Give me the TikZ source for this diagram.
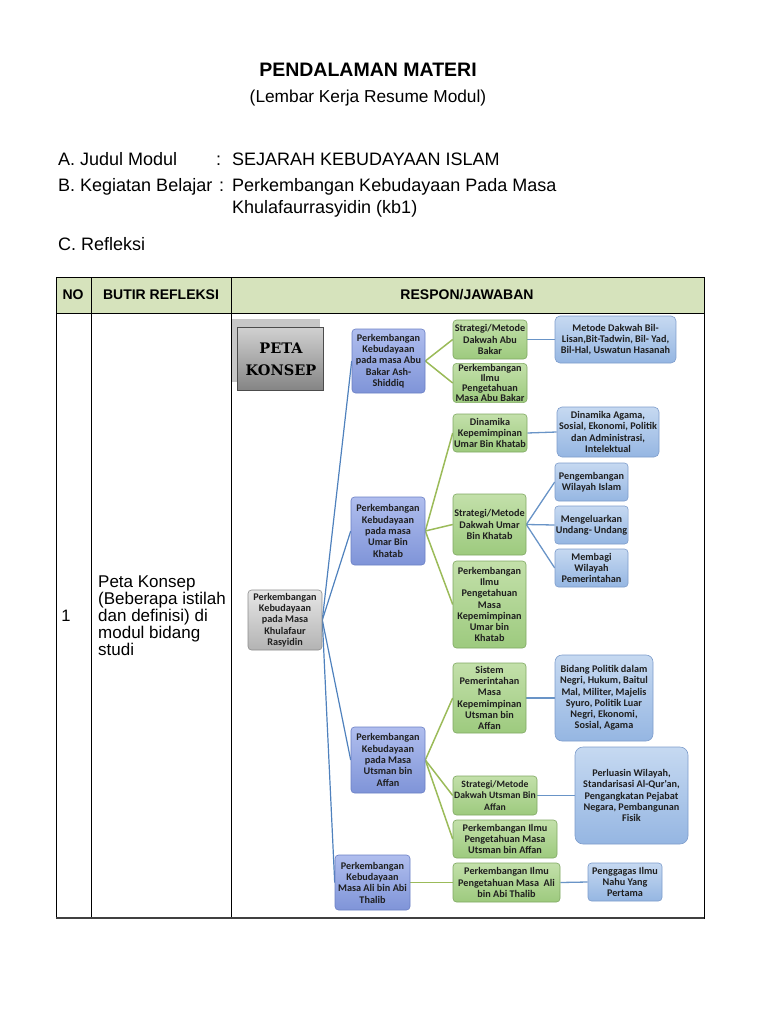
\documentclass[tikz,border=0pt]{standalone}
\usepackage{fontspec}
\setmainfont{Liberation Sans}
\newfontfamily\nodefont{Carlito}
\newfontfamily\petafont{DejaVu Serif}
\usetikzlibrary{backgrounds}
\definecolor{hdr}{HTML}{D6E3BC}
\definecolor{lonet}{HTML}{B0BEEE}
\definecolor{loneb}{HTML}{7F94D8}
\definecolor{loned}{HTML}{6A7FC4}
\definecolor{ltwot}{HTML}{C3E0AA}
\definecolor{ltwob}{HTML}{9DCA7E}
\definecolor{ltwod}{HTML}{7FA862}
\definecolor{lthreet}{HTML}{C6D9F1}
\definecolor{lthreeb}{HTML}{95B6E2}
\definecolor{lthreed}{HTML}{7D9CCB}
\definecolor{rtop}{HTML}{E6E6E6}
\definecolor{rbot}{HTML}{B3B3B3}
\definecolor{rdraw}{HTML}{8C8C8C}
\definecolor{ebl}{HTML}{4F81BD}
\definecolor{egr}{HTML}{9BBB59}
\definecolor{txt}{HTML}{1F1F1F}
\begin{document}
\begin{tikzpicture}[x=1pt,y=-1pt,
  wh/.style 2 args={minimum width=#1pt, minimum height=#2pt},
  basebox/.style={rounded corners=3.5pt, draw, line width=0.6pt, align=center, inner sep=1pt,
     font=\nodefont\bfseries\fontsize{10.2}{11.3}\selectfont, text=txt},
  lone/.style={basebox, draw=loned, top color=lonet, bottom color=loneb},
  ltwo/.style={basebox, draw=ltwod, top color=ltwot, bottom color=ltwob},
  lthree/.style={basebox, draw=lthreed, top color=lthreet, bottom color=lthreeb},
  rootbox/.style={basebox, draw=rdraw, top color=rtop, bottom color=rbot},
  blueedge/.style={draw=ebl, line width=1.2pt},
  greenedge/.style={draw=egr, line width=1.5pt},
  l3edge/.style={draw=ebl!85, line width=1.3pt},
  tline/.style={draw=black, line width=0.8pt},
  bodytext/.style={font=\fontsize{18}{20}\selectfont, anchor=base west, inner sep=0pt},
]
\useasboundingbox (0,0) rectangle (768,1024);

% heading
\node[anchor=base, inner sep=0pt, font=\bfseries\fontsize{19.5}{22}\selectfont] (title) at (368,77) {PENDALAMAN MATERI};
\node[anchor=base, inner sep=0pt, font=\fontsize{17.3}{20}\selectfont] (subtitle) at (368,103) {(Lembar Kerja Resume Modul)};
\node[bodytext] (la) at (58,166) {A. Judul Modul};
\node[bodytext] (lacolon) at (216,166) {:};
\node[bodytext] (va) at (232,166) {SEJARAH KEBUDAYAAN ISLAM};
\node[bodytext] (lb) at (58,192) {B. Kegiatan Belajar};
\node[bodytext] (lbcolon) at (219,192) {:};
\node[bodytext] (vb) at (232,192) {Perkembangan Kebudayaan Pada Masa};
\node[bodytext] (vb2) at (232,214) {Khulafaurrasyidin (kb1)};
\node[bodytext] (lc) at (58,251) {C. Refleksi};

% table
\fill[hdr] (56,277) rectangle (704,313);
\draw[tline] (56,277) rectangle (704,918);
\draw[tline] (56,313) -- (704,313);
\draw[tline] (91,277) -- (91,918);
\draw[tline] (231,277) -- (231,918);
\draw[draw=black!75, line width=1.4pt] (56,918) -- (704,918);
\node[anchor=base, inner sep=0pt, font=\bfseries\fontsize{14}{16}\selectfont] (hno) at (73,299) {NO};
\node[anchor=base, inner sep=0pt, font=\bfseries\fontsize{14}{16}\selectfont] (hbutir) at (161,299) {BUTIR REFLEKSI};
\node[anchor=base, inner sep=0pt, font=\bfseries\fontsize{14}{16}\selectfont] (hrespon) at (467,299) {RESPON/JAWABAN};
\node[anchor=base, inner sep=0pt, font=\fontsize{16.5}{17}\selectfont] (rowno) at (66,621) {1};
\node[anchor=north west, inner sep=0pt, align=left, font=\fontsize{17}{17}\selectfont] (rowtext) at (98,576)
  {Peta Konsep\\(Beberapa istilah\\dan definisi) di\\modul bidang\\studi};

% peta konsep label
\fill[black!22] (232,319) rectangle (320,382);
\draw[draw=black!70, line width=0.8pt, top color=black!18, middle color=black!4, bottom color=black!48] (237,327) rectangle (323,390);
\node[anchor=base, inner sep=0pt, font=\petafont\bfseries\fontsize{14.5}{17}\selectfont] (peta1) at (281,353) {PETA};
\node[anchor=base, inner sep=0pt, font=\petafont\bfseries\fontsize{14.5}{17}\selectfont] (peta2) at (281,375) {KONSEP};

% nodes
\node[rootbox, wh={74}{60}] (root) at (285,620) {Perkembangan\\Kebudayaan\\pada Masa\\Khulafaur\\Rasyidin};

\node[lone, wh={73}{64}] (ab) at (388.5,361) {Perkembangan\\Kebudayaan\\pada masa Abu\\Bakar Ash-\\Shiddiq};
\node[lone, wh={74}{68}] (um) at (388,531) {Perkembangan\\Kebudayaan\\pada masa\\Umar Bin\\Khatab};
\node[lone, wh={74}{66}] (ut) at (388,760) {Perkembangan\\Kebudayaan\\pada Masa\\Utsman bin\\Affan};
\node[lone, wh={75}{55}] (al) at (372.5,882.5) {Perkembangan\\Kebudayaan\\Masa Ali bin Abi\\Thalib};

\node[ltwo, wh={74}{39}] (gab1) at (490,339.5) {Strategi/Metode\\Dakwah Abu\\Bakar};
\node[ltwo, wh={74}{38}, font=\nodefont\bfseries\fontsize{10.2}{10}\selectfont] (gab2) at (490,383) {Perkembangan\\Ilmu\\Pengetahuan\\Masa Abu Bakar};
\node[ltwo, wh={74}{38}] (gum1) at (490,433) {Dinamika\\Kepemimpinan\\Umar Bin Khatab};
\node[ltwo, wh={73}{61}] (gum2) at (489.5,524.5) {Strategi/Metode\\Dakwah Umar\\Bin Khatab};
\node[ltwo, wh={73}{87}] (gum3) at (489.5,604.5) {Perkembangan\\Ilmu\\Pengetahuan\\Masa\\Kepemimpinan\\Umar bin\\Khatab};
\node[ltwo, wh={73}{70}] (gut1) at (489.5,698) {Sistem\\Pemerintahan\\Masa\\Kepemimpinan\\Utsman bin\\Affan};
\node[ltwo, wh={84}{39}, font=\nodefont\bfseries\fontsize{9.7}{11.3}\selectfont] (gut2) at (495,795.5) {Strategi/Metode\\Dakwah Utsman Bin\\Affan};
\node[ltwo, wh={104}{38}] (gut3) at (505,839) {Perkembangan Ilmu\\Pengetahuan Masa\\Utsman bin Affan};
\node[ltwo, wh={107}{39}] (gal1) at (506.5,882.5) {Perkembangan Ilmu\\Pengetahuan Masa~~Ali\\bin Abi Thalib};

\node[lthree, wh={121}{47}, rounded corners=5pt] (bab1) at (615.5,339.5) {Metode Dakwah Bil-\\Lisan,Bit-Tadwin, Bil- Yad,\\Bil-Hal, Uswatun Hasanah};
\node[lthree, wh={102}{50}, rounded corners=5pt] (bum1) at (608,432) {Dinamika Agama,\\Sosial, Ekonomi, Politik\\dan Administrasi,\\Intelektual};
\node[lthree, wh={73}{38}] (bum2) at (591.5,482) {Pengembangan\\Wilayah Islam};
\node[lthree, wh={73}{38}] (bum3) at (591.5,525) {Mengeluarkan\\Undang- Undang};
\node[lthree, wh={73}{38}] (bum4) at (591.5,568) {Membagi\\Wilayah\\Pemerintahan};
\node[lthree, wh={98}{86}, rounded corners=7pt] (but1) at (604,698) {Bidang Politik dalam\\Negri, Hukum, Baitul\\Mal, Militer, Majelis\\Syuro, Politik Luar\\Negri, Ekonomi,\\Sosial, Agama};
\node[lthree, wh={113}{97}, rounded corners=8pt] (but2) at (631.5,795.5) {Perluasin Wilayah,\\Standarisasi Al-Qur'an,\\Pengangkatan Pejabat\\Negara, Pembangunan\\Fisik};
\node[lthree, wh={74}{38}] (bal1) at (625,882) {Penggagas Ilmu\\Nahu Yang\\Pertama};

% connectors
\begin{scope}[on background layer]
\draw[blueedge] (root.east) -- (ab.west);
\draw[blueedge] (root.east) -- (um.west);
\draw[blueedge] (root.east) -- (ut.west);
\draw[blueedge] (root.east) -- (al.west);

\draw[greenedge] (ab.east) -- (gab1.west);
\draw[greenedge] (ab.east) -- (gab2.west);
\draw[greenedge] (um.east) -- (gum1.west);
\draw[greenedge] (um.east) -- (gum2.west);
\draw[greenedge] (um.east) -- (gum3.west);
\draw[greenedge] (ut.east) -- (gut1.west);
\draw[greenedge] (ut.east) -- (gut2.west);
\draw[greenedge] (ut.east) -- (gut3.west);
\draw[greenedge] (al.east) -- (gal1.west);

\draw[l3edge] (gab1.east) -- (bab1.west);
\draw[l3edge] (gum1.east) -- (bum1.west);
\draw[l3edge] (gum2.east) -- (bum2.west);
\draw[l3edge] (gum2.east) -- (bum3.west);
\draw[l3edge] (gum2.east) -- (bum4.west);
\draw[l3edge] (gut1.east) -- (but1.west);
\draw[l3edge] (gut2.east) -- (but2.west);
\draw[l3edge] (gal1.east) -- (bal1.west);
\end{scope}
\end{tikzpicture}
\end{document}
